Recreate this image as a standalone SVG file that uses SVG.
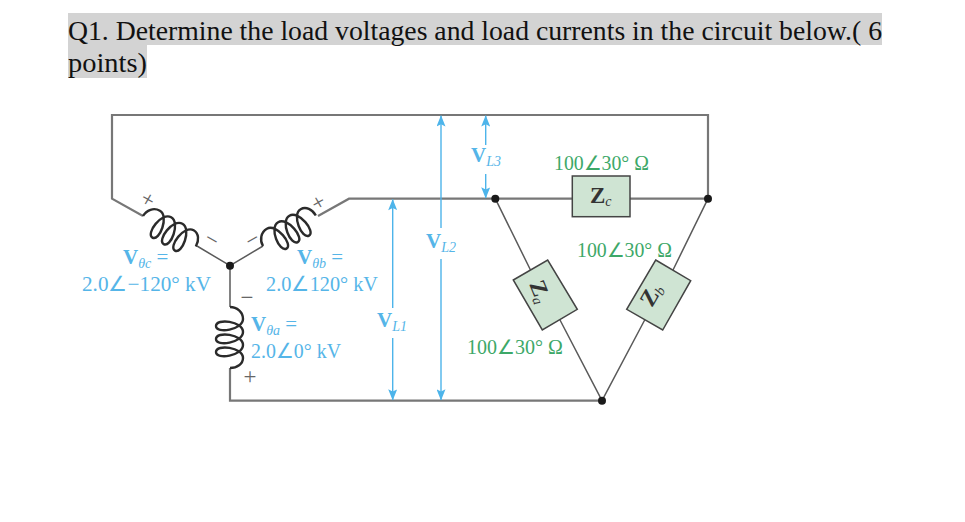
<svg xmlns="http://www.w3.org/2000/svg" width="965" height="522" viewBox="0 0 965 522">
<style>
text{font-family:"Liberation Serif","Times New Roman",serif}
.title{font-size:28px;fill:#111}
.w{fill:none;stroke:#777;stroke-width:2.2}
.w2{fill:none;stroke:#5a5a5a;stroke-width:1.5}
.coil{fill:none;stroke:#2b2b2b;stroke-width:2.4}
.v{fill:none;stroke:#4db4ea;stroke-width:1.4;marker-end:url(#a)}
.b{fill:#55b5e8;font-size:21px}
.g{fill:#3da868;font-size:20px}
.s{fill:#666;font-size:23px}
.z{fill:#cfe4d3;stroke:#444;stroke-width:1.5}
.zt{fill:#333;font-size:23px;font-weight:bold}
.sub{font-size:14px;font-style:italic;font-weight:normal}
.ang{font-family:"DejaVu Sans",sans-serif;font-weight:200}
.n{fill:#1a1a1a}
</style>
<defs>
<marker id="a" viewBox="0 0 10 8" refX="9.500" refY="4" markerWidth="12" markerHeight="9" markerUnits="userSpaceOnUse" orient="auto"><path d="M0 0L10 4L0 8L2 4Z" fill="#4db4ea"/></marker>
<path id="coilshape" d="M0 0C7 0 13 5 13 12C13 23-14 27-14 19C-14 11 13 14 13 25C13 36-14 40-14 32C-14 24 13 27 13 38C13 49-14 53-14 45C-14 37 13 40 13 51C13 57 7 61 0 61"/>
</defs>
<rect width="965" height="522" fill="#fff"/>
<g id="question">
<rect x="68" y="13" width="814" height="32" fill="#d3d3d3"/>
<rect x="68" y="45" width="79" height="33" fill="#d3d3d3"/>
<text class="title" x="68" y="40" textLength="814" lengthAdjust="spacingAndGlyphs">Q1. Determine the load voltages and load currents in the circuit below.( 6</text>
<text class="title" x="68" y="72" textLength="79" lengthAdjust="spacingAndGlyphs">points)</text>
</g>
<g id="connectors">
<path class="w" d="M143 216L112 198.700V115H708V198.700"/>
<path class="w" d="M318 216L349 198.700H572M630 198.700H708"/>
<path class="w" d="M230 368V400.700H602"/>
<path class="w2" d="M197 246L230 265.700L263 246M230 265.700V307"/>
<path class="w2" d="M495.300 198.700L530.500 270M560 320L602 400.700M708 198.700L673 270M644.700 320L602 400.700"/>
<path class="v" d="M392.700 308V199.500"/>
<path class="v" d="M392.700 338V400"/>
<path class="v" d="M441 228V115.800"/>
<path class="v" d="M441 259V400"/>
<path class="v" d="M485.700 145V115.800"/>
<path class="v" d="M485.700 174V198"/>
</g>
<g id="source-a">
<use href="#coilshape" class="coil" transform="translate(230 307)"/>
<text class="s" x="247" y="305" text-anchor="middle">−</text>
<text class="s" x="250" y="384" text-anchor="middle">+</text>
<text class="b" x="251" y="331"><tspan font-weight="bold">V</tspan><tspan class="sub" dy="4">θa</tspan><tspan dy="-4"> =</tspan></text>
<text class="b" x="251" y="358" textLength="90" lengthAdjust="spacingAndGlyphs">2.0<tspan class="ang">∠</tspan>0° kV</text>
</g>
<g id="source-b">
<use href="#coilshape" class="coil" transform="translate(263 246) rotate(-120)"/>
<text class="s" text-anchor="middle" transform="translate(322 209) rotate(-30)">+</text>
<text class="s" text-anchor="middle" transform="translate(256 246) rotate(-30)">−</text>
<text class="b" x="297" y="264"><tspan font-weight="bold">V</tspan><tspan class="sub" dy="4">θb</tspan><tspan dy="-4"> =</tspan></text>
<text class="b" x="266" y="291" textLength="112" lengthAdjust="spacingAndGlyphs">2.0<tspan class="ang">∠</tspan>120° kV</text>
</g>
<g id="source-c">
<use href="#coilshape" class="coil" transform="translate(143 216) rotate(-60)"/>
<text class="s" text-anchor="middle" transform="translate(144 206) rotate(30)">+</text>
<text class="s" text-anchor="middle" transform="translate(208 246) rotate(30)">−</text>
<text class="b" x="123" y="264"><tspan font-weight="bold">V</tspan><tspan class="sub" dy="4">θc</tspan><tspan dy="-4"> =</tspan></text>
<text class="b" x="82" y="291" textLength="129" lengthAdjust="spacingAndGlyphs">2.0<tspan class="ang">∠</tspan>−120° kV</text>
</g>
<g id="line-labels">
<text class="b" x="377" y="327"><tspan font-weight="bold">V</tspan><tspan class="sub" dy="4">L1</tspan></text>
<text class="b" x="426" y="248"><tspan font-weight="bold">V</tspan><tspan class="sub" dy="4">L2</tspan></text>
<text class="b" x="471" y="162"><tspan font-weight="bold">V</tspan><tspan class="sub" dy="4">L3</tspan></text>
</g>
<g id="impedance-c">
<rect class="z" x="572.300" y="176" width="57.700" height="40.700"/>
<text class="zt" x="590" y="203">Z<tspan class="sub" dy="3">c</tspan></text>
<text class="g" x="554" y="170" textLength="95" lengthAdjust="spacingAndGlyphs">100<tspan class="ang">∠</tspan>30° Ω</text>
</g>
<g id="impedance-a">
<path class="z" d="M513.300 280L547.700 260L577.300 309.300L542.300 330Z"/>
<text class="zt" transform="translate(529 284) rotate(68)">Z<tspan class="sub" dy="3">a</tspan></text>
<text class="g" x="467" y="354" textLength="96" lengthAdjust="spacingAndGlyphs">100<tspan class="ang">∠</tspan>30° Ω</text>
</g>
<g id="impedance-b">
<path class="z" d="M655.700 260L690.700 280.700L662.700 330L626.700 309.300Z"/>
<text class="zt" transform="translate(652 308) rotate(-60)">Z<tspan class="sub" dy="3">b</tspan></text>
<text class="g" x="577" y="257" textLength="95" lengthAdjust="spacingAndGlyphs">100<tspan class="ang">∠</tspan>30° Ω</text>
</g>
<g id="junctions">
<circle class="n" cx="230" cy="265.700" r="4"/>
<circle class="n" cx="495.300" cy="198.700" r="4"/>
<circle class="n" cx="708" cy="198.700" r="4"/>
<circle class="n" cx="602" cy="400.700" r="4"/>
</g>
</svg>
